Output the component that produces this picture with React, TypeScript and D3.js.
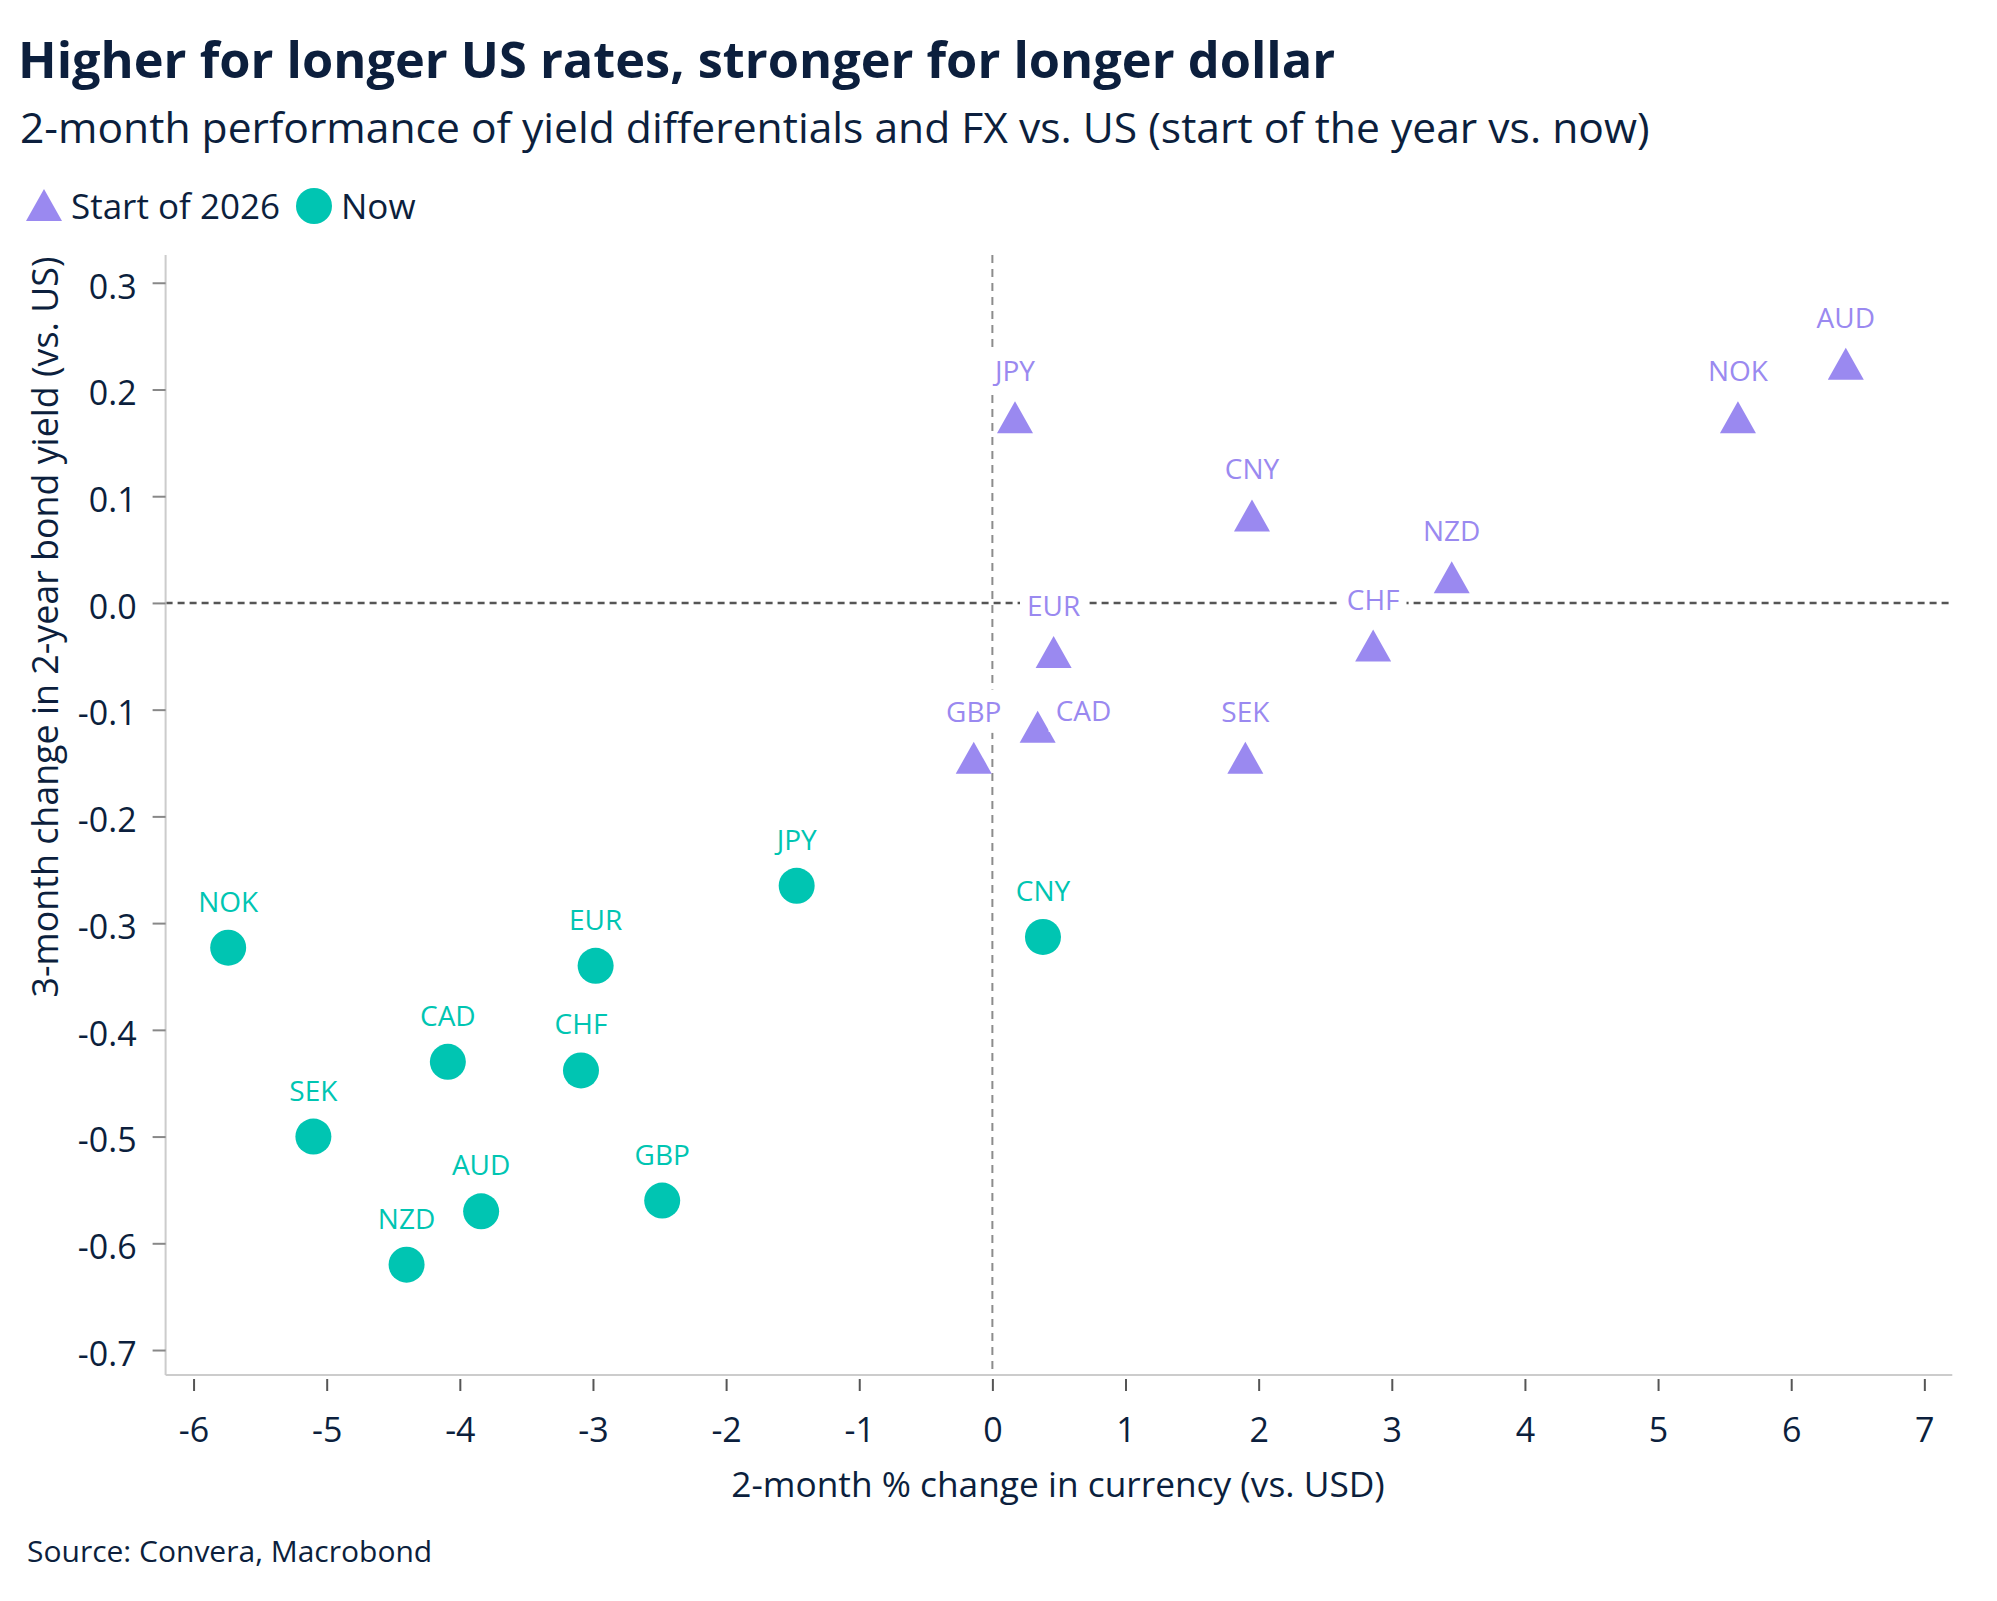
import React, { useEffect, useRef } from "react";
import * as d3 from "d3";

const WIDTH = 1997;
const HEIGHT = 1601;

const FONT = "'Open Sans', 'Noto Sans', 'DejaVu Sans', sans-serif";
const INK = "#0c1f3d";
const PURPLE = "#9a89f0";
const TEAL = "#00c5b2";

// Currency order shared by both series
const currencies = ["JPY", "AUD", "NOK", "CNY", "NZD", "CHF", "EUR", "CAD", "GBP", "SEK"];

// Start of 2026: 2-month % change in currency vs. USD, and 3-month change in 2y yield spread
const startFx = [0.17, 6.41, 5.6, 1.95, 3.45, 2.86, 0.46, 0.34, -0.14, 1.9];
const startYield = [0.174, 0.224, 0.174, 0.082, 0.024, -0.04, -0.046, -0.116, -0.145, -0.145];

// Now
const nowFx = [-1.47, -3.84, -5.74, 0.38, -4.4, -3.09, -2.98, -4.09, -2.48, -5.1];
const nowYield = [-0.265, -0.57, -0.323, -0.313, -0.62, -0.438, -0.34, -0.43, -0.56, -0.5];

// Labels that sit to the right of their marker instead of above it
const startLabelsRight = ["CAD"];

const xTicks = [-6, -5, -4, -3, -2, -1, 0, 1, 2, 3, 4, 5, 6, 7];
const yTicks = [0.3, 0.2, 0.1, 0.0, -0.1, -0.2, -0.3, -0.4, -0.5, -0.6, -0.7];

const seriesNames = ["Start of 2026", "Now"];

const TITLE = "Higher for longer US rates, stronger for longer dollar";
const SUBTITLE = "2-month performance of yield differentials and FX vs. US (start of the year vs. now)";
const X_TITLE = "2-month % change in currency (vs. USD)";
const Y_TITLE = "3-month change in 2-year bond yield (vs. US)";
const SOURCE = "Source: Convera, Macrobond";

const TRI_W = 36;
const TRI_H = 32;
const DOT_R = 18;

function trianglePath(cx: number, cy: number) {
  const p = d3.path();
  p.moveTo(cx, cy - TRI_H / 2);
  p.lineTo(cx + TRI_W / 2, cy + TRI_H / 2);
  p.lineTo(cx - TRI_W / 2, cy + TRI_H / 2);
  p.closePath();
  return p.toString();
}

export default function App() {
  const ref = useRef<SVGSVGElement>(null);

  useEffect(() => {
    const svg = d3.select(ref.current as SVGSVGElement);
    svg.selectAll("*").remove();

    const plot = { left: 165.6, right: 1952.3, top: 255, bottom: 1375 };

    const x = d3.scaleLinear().domain([-6.21, 7.21]).range([plot.left, plot.right]);
    const y = d3.scaleLinear().domain([-0.7234, 0.326]).range([plot.bottom, plot.top]);

    svg.append("rect").attr("width", WIDTH).attr("height", HEIGHT).attr("fill", "#fff");

    // Titles
    svg.append("text")
      .attr("x", 18).attr("y", 78)
      .attr("font-family", FONT).attr("font-size", 50.5).attr("font-weight", 700)
      .attr("fill", INK).text(TITLE);
    svg.append("text")
      .attr("x", 20).attr("y", 143)
      .attr("font-family", FONT).attr("font-size", 42.6)
      .attr("fill", INK).text(SUBTITLE);

    // Legend
    const legend = svg.append("g");
    legend.append("path").attr("d", trianglePath(44, 205)).attr("fill", PURPLE);
    legend.append("text").attr("x", 71).attr("y", 219)
      .attr("font-family", FONT).attr("font-size", 35).attr("fill", INK).text(seriesNames[0]);
    legend.append("circle").attr("cx", 314).attr("cy", 206).attr("r", DOT_R).attr("fill", TEAL);
    legend.append("text").attr("x", 341).attr("y", 219)
      .attr("font-family", FONT).attr("font-size", 35).attr("fill", INK).text(seriesNames[1]);

    // Zero reference lines
    svg.append("line")
      .attr("x1", x(0)).attr("x2", x(0)).attr("y1", plot.top).attr("y2", plot.bottom)
      .attr("stroke", "#8c8c8c").attr("stroke-width", 2).attr("stroke-dasharray", "8,6");
    svg.append("line")
      .attr("x1", plot.left).attr("x2", plot.right).attr("y1", y(0)).attr("y2", y(0))
      .attr("stroke", "#555").attr("stroke-width", 2.5).attr("stroke-dasharray", "7,5");

    // Axis lines
    svg.append("line")
      .attr("x1", plot.left).attr("x2", plot.left).attr("y1", plot.top).attr("y2", plot.bottom)
      .attr("stroke", "#cccccc").attr("stroke-width", 2);
    svg.append("line")
      .attr("x1", plot.left).attr("x2", plot.right).attr("y1", plot.bottom).attr("y2", plot.bottom)
      .attr("stroke", "#cccccc").attr("stroke-width", 2);

    // Y axis ticks
    const yAxis = d3.axisLeft(y)
      .tickValues(yTicks)
      .tickSize(13)
      .tickSizeOuter(0)
      .tickPadding(16)
      .tickFormat((d) => (d as number).toFixed(1));
    const gy = svg.append("g").attr("transform", `translate(${plot.left},0)`).call(yAxis);
    gy.select(".domain").remove();
    gy.selectAll(".tick line").attr("stroke", "#888").attr("stroke-width", 2);
    gy.selectAll(".tick text")
      .attr("font-family", FONT).attr("font-size", 34).attr("fill", INK).attr("dy", "0.45em");

    // X axis ticks
    const xAxis = d3.axisBottom(x)
      .tickValues(xTicks)
      .tickSize(12)
      .tickSizeOuter(0)
      .tickPadding(27)
      .tickFormat((d) => String(d));
    const gx = svg.append("g").attr("transform", `translate(0,${plot.bottom + 4})`).call(xAxis);
    gx.select(".domain").remove();
    gx.selectAll(".tick line").attr("stroke", "#555").attr("stroke-width", 2);
    gx.selectAll(".tick text")
      .attr("font-family", FONT).attr("font-size", 34).attr("fill", INK);

    // Axis titles
    svg.append("text")
      .attr("x", 1058).attr("y", 1497).attr("text-anchor", "middle")
      .attr("font-family", FONT).attr("font-size", 35.3).attr("fill", INK).text(X_TITLE);
    svg.append("text")
      .attr("transform", "translate(58,627) rotate(-90)").attr("text-anchor", "middle")
      .attr("font-family", FONT).attr("font-size", 35.8).attr("fill", INK).text(Y_TITLE);

    // Source
    svg.append("text")
      .attr("x", 27).attr("y", 1562)
      .attr("font-family", FONT).attr("font-size", 30).attr("fill", INK).text(SOURCE);

    // Markers
    const startData = currencies.map((c, i) => ({ c, fx: startFx[i], yld: startYield[i] }));
    const nowData = currencies.map((c, i) => ({ c, fx: nowFx[i], yld: nowYield[i] }));

    svg.append("g").selectAll("path").data(startData).join("path")
      .attr("d", (d) => trianglePath(x(d.fx), y(d.yld)))
      .attr("fill", PURPLE);
    svg.append("g").selectAll("circle").data(nowData).join("circle")
      .attr("cx", (d) => x(d.fx)).attr("cy", (d) => y(d.yld)).attr("r", DOT_R)
      .attr("fill", TEAL);

    // Data labels with white boxes
    const LABEL_FS = 28;
    const drawLabels = (data: { c: string; fx: number; yld: number }[], color: string, rightSide: string[]) => {
      const g = svg.append("g");
      data.forEach((d) => {
        const cx = x(d.fx);
        const cy = y(d.yld);
        const right = rightSide.includes(d.c);
        const lg = g.append("g");
        const rect = lg.append("rect").attr("fill", "#fff");
        const t = lg.append("text")
          .attr("font-family", FONT).attr("font-size", LABEL_FS).attr("fill", color)
          .attr("text-anchor", right ? "start" : "middle")
          .attr("x", right ? cx + 18 : cx)
          .attr("y", right ? cy - 6 : cy - 36)
          .text(d.c);
        const w = (t.node() as SVGTextElement).getComputedTextLength();
        const tx = right ? cx + 18 : cx - w / 2;
        const base = right ? cy - 6 : cy - 36;
        rect.attr("x", tx - 7).attr("y", base - LABEL_FS * 1.15)
          .attr("width", w + 14).attr("height", LABEL_FS * 1.55);
      });
    };
    drawLabels(startData, PURPLE, startLabelsRight);
    drawLabels(nowData, TEAL, []);
  }, []);

  return (
    <svg
      ref={ref}
      width={WIDTH}
      height={HEIGHT}
      style={{ position: "absolute", left: 0, top: 0, display: "block" }}
    />
  );
}
